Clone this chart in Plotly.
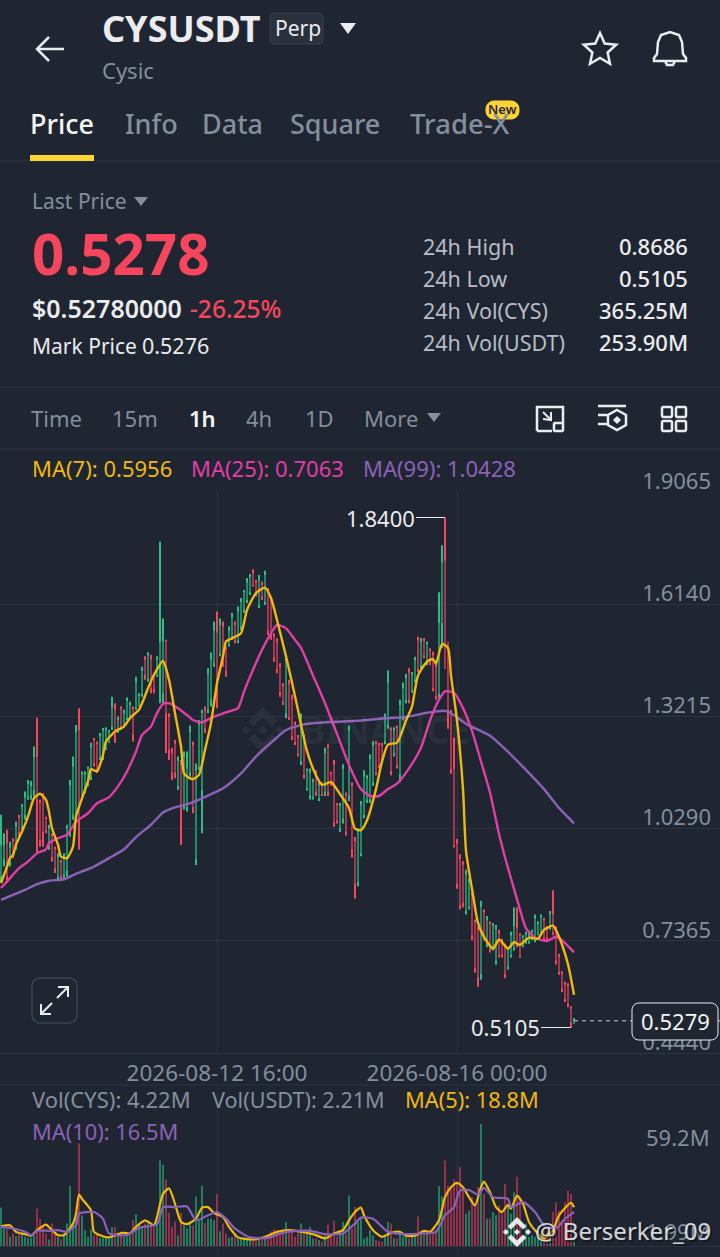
import math
import pandas as pd
import plotly.graph_objects as go

W, H = 720, 1257
BG = '#1f2631'
GRID = '#2d333f'
GRAY = '#848e9c'
WHITE = '#eaecef'
YELLOW = '#f0b90b'
PINK = '#e13ea6'
PURPLE = '#8c62b8'
RED = '#f6465d'
GREEN = '#2ebd85'
RED_DIM = '#a43650'
GREEN_DIM = '#1f8a66'
RED_VOL = '#93304a'
GREEN_VOL = '#237d5f'
FONT = 'Noto Sans'

# 1h candles
highs = [1.065,1.017,1.026,.995,1.004,1.047,1.065,1.093,1.126,1.156,
         1.153,1.243,1.318,1.104,1.121,1.060,1.039,1.017,.982,.965,
         .947,.965,1.039,1.156,1.217,1.299,1.343,1.178,1.178,1.191,
         1.253,1.265,1.256,1.278,1.291,1.293,1.286,1.373,1.356,1.321,
         1.347,1.339,1.371,1.360,1.347,1.425,1.382,1.451,1.478,1.489,
         1.482,1.434,1.478,1.777,1.577,1.521,1.330,1.239,1.260,1.217,
         1.208,1.230,1.230,1.298,1.256,1.199,1.312,1.339,1.347,1.447,
         1.488,1.569,1.595,1.577,1.569,1.504,1.556,1.591,1.569,1.608,
         1.630,1.651,1.682,1.693,1.705,1.677,1.690,1.673,1.701,1.656,
         1.634,1.538,1.525,1.460,1.408,1.478,1.417,1.378,1.308,1.273,
         1.329,1.275,1.186,1.186,1.159,1.181,1.150,1.150,1.240,1.249,
         1.177,1.208,1.096,1.096,1.197,1.123,1.298,1.150,1.007,1.029,
         1.101,1.181,1.168,1.222,1.257,1.257,1.253,1.253,1.329,1.441,
         1.293,1.293,1.298,1.365,1.410,1.432,1.447,1.437,1.477,1.529,
         1.526,1.526,1.517,1.499,1.490,1.459,1.645,1.768,1.840,1.516,
         1.338,1.266,1.002,.962,.944,.922,.899,.863,.792,.774,
         .841,.818,.801,.787,.783,.778,.765,.742,.729,.720,
         .760,.823,.823,.756,.751,.760,.756,.765,.805,.787,
         .805,.796,.774,.814,.868,.774,.702,.657,.630,.626,.566,.535]
lows = [.887,.930,.887,.930,.952,.974,1.008,1.026,1.052,1.104,
        1.104,1.113,.965,.982,.982,1.017,.974,.943,.913,.895,
        .895,.899,.904,1.008,1.052,1.065,.974,1.104,1.121,1.139,
        1.156,1.191,1.174,1.208,1.208,1.234,1.252,1.286,1.252,1.278,
        1.286,1.295,1.312,1.321,1.256,1.339,1.347,1.373,1.417,1.412,
        1.382,1.382,1.425,1.356,1.356,1.226,1.208,1.156,1.160,1.130,
        .986,1.078,1.073,1.165,1.069,.934,1.182,1.017,1.278,1.330,
        1.347,1.451,1.343,1.478,1.451,1.425,1.504,1.521,1.512,1.512,
        1.547,1.591,1.617,1.638,1.660,1.634,1.604,1.625,1.612,1.534,
        1.521,1.464,1.434,1.373,1.351,1.317,1.312,1.260,1.247,1.217,
        1.195,1.159,1.128,1.105,1.105,1.114,1.101,1.114,1.114,1.114,
        1.141,1.034,1.042,1.020,1.042,1.011,1.101,.953,.847,.879,
        .957,1.056,1.096,1.096,1.141,1.168,1.186,1.204,1.249,1.289,
        1.168,1.217,1.186,1.150,1.311,1.356,1.356,1.383,1.410,1.437,
        1.446,1.473,1.455,1.455,1.387,1.365,1.365,1.499,1.446,1.289,
        1.172,.980,.872,.818,.823,.805,.818,.738,.653,.617,
        .635,.738,.720,.706,.711,.675,.693,.693,.639,.662,
        .693,.711,.720,.693,.720,.729,.729,.738,.733,.751,
        .756,.738,.738,.765,.751,.675,.648,.603,.577,.563,.5105,.520]
opens = [.905,.950,.990,.945,.995,.985,1.058,1.035,1.065,1.112,
         1.115,1.130,1.215,1.095,1.105,1.055,.985,1.010,.975,.905,
         .940,.910,.920,1.020,1.065,1.070,1.285,1.110,1.125,1.145,
         1.165,1.260,1.250,1.215,1.215,1.240,1.255,1.295,1.340,1.282,
         1.340,1.300,1.318,1.325,1.340,1.345,1.350,1.380,1.470,1.420,
         1.470,1.425,1.430,1.460,1.382,1.517,1.320,1.225,1.250,1.140,
         1.195,1.090,1.085,1.175,1.245,.950,1.190,1.130,1.335,1.340,
         1.365,1.460,1.540,1.485,1.555,1.495,1.510,1.530,1.560,1.520,
         1.555,1.600,1.625,1.645,1.695,1.670,1.612,1.665,1.620,1.650,
         1.625,1.530,1.515,1.450,1.400,1.330,1.405,1.365,1.300,1.265,
         1.205,1.265,1.135,1.115,1.112,1.175,1.108,1.145,1.125,1.240,
         1.172,1.195,1.090,1.030,1.055,1.115,1.115,1.140,.995,.890,
         .965,1.065,1.105,1.105,1.150,1.250,1.245,1.245,1.258,1.300,
         1.285,1.225,1.290,1.170,1.320,1.365,1.435,1.390,1.418,1.520,
         1.455,1.518,1.462,1.492,1.480,1.450,1.380,1.565,1.728,1.516,
         1.330,1.185,.990,.950,.935,.815,.825,.855,.785,.765,
         .650,.810,.730,.780,.720,.685,.755,.735,.720,.670,
         .700,.720,.770,.750,.725,.735,.735,.742,.740,.755,
         .760,.790,.768,.770,.805,.765,.695,.650,.622,.618,.560,.522]
closes = [.985,.985,.905,.980,.965,1.035,1.020,1.085,1.110,1.145,
          1.140,1.215,1.105,1.000,1.020,1.025,1.030,.955,.925,.955,
          .905,.955,1.030,1.140,1.190,1.280,1.052,1.170,1.170,1.185,
          1.240,1.200,1.185,1.270,1.285,1.285,1.280,1.345,1.275,1.312,
          1.295,1.330,1.362,1.350,1.275,1.410,1.375,1.440,1.430,1.480,
          1.395,1.392,1.470,1.515,1.517,1.330,1.235,1.175,1.175,1.205,
          1.090,1.215,1.185,1.280,1.085,1.180,1.300,1.330,1.290,1.430,
          1.470,1.545,1.420,1.560,1.465,1.440,1.545,1.580,1.520,1.595,
          1.620,1.645,1.670,1.685,1.665,1.640,1.675,1.635,1.690,1.545,
          1.535,1.475,1.445,1.385,1.360,1.465,1.320,1.270,1.255,1.225,
          1.315,1.170,1.180,1.175,1.150,1.125,1.142,1.120,1.225,1.125,
          1.146,1.045,1.050,1.088,1.185,1.022,1.285,.975,.885,1.020,
          1.090,1.165,1.160,1.210,1.245,1.175,1.195,1.212,1.320,1.410,
          1.180,1.285,1.195,1.350,1.395,1.420,1.365,1.430,1.468,1.445,
          1.515,1.480,1.510,1.462,1.395,1.375,1.565,1.723,1.446,1.340,
          1.185,.985,.885,.830,.835,.910,.890,.750,.665,.640,
          .825,.745,.790,.715,.775,.765,.700,.700,.650,.712,
          .750,.775,.730,.700,.745,.752,.750,.760,.795,.780,
          .798,.745,.745,.805,.758,.685,.655,.612,.585,.572,.525,.5279]
volumes = [18.6,8.5,8.0,4.5,6.1,4.8,6.9,6.1,4.5,4.0,
           4.0,5.3,18.2,13.3,9.6,6.1,3.2,10.9,6.1,4.5,
           3.4,6.1,10.9,29.1,11.7,14.4,49.9,14.9,7.7,4.5,
           8.0,5.3,6.1,4.0,4.2,4.5,3.7,9.3,9.3,6.1,
           6.9,4.5,4.5,5.3,12.8,15.4,10.1,8.5,10.9,10.9,
           10.1,9.3,10.9,41.6,39.4,32.2,16.2,9.3,12.0,5.3,
           16.0,10.1,8.5,10.9,10.1,24.0,12.2,29.3,11.2,13.3,
           13.3,12.5,25.3,7.2,10.9,6.1,4.0,4.5,6.1,3.7,
           3.7,4.5,3.7,4.5,4.5,4.5,4.5,4.5,4.5,5.8,
           6.9,8.0,6.9,6.1,6.9,11.7,6.9,6.9,4.5,7.7,
           10.9,6.9,6.1,9.3,3.7,3.7,2.9,2.1,6.1,10.4,
           4.5,12.2,4.5,6.9,11.7,6.1,24.5,8.5,18.9,11.7,
           13.3,3.7,4.5,7.7,5.3,2.9,2.6,2.1,4.5,11.7,
           10.9,3.7,3.7,6.1,4.5,4.5,3.7,4.5,4.5,14.4,
           6.1,6.1,6.1,6.1,6.9,7.7,29.1,24.0,41.6,29.3,
           27.7,32.5,30.9,38.4,26.9,15.7,17.3,23.7,19.7,28.5,
           59.2,25.3,13.3,13.3,16.5,14.9,19.7,15.7,30.1,19.7,
           15.7,26.1,33.6,23.7,4.5,10.9,4.5,5.3,4.5,7.7,
           4.5,7.7,6.1,6.9,16.5,21.3,17.0,12.5,21.3,26.9,25.3,3.7]

# moving averages: candle number, value
ma7_idx = [0,2,3,4,5,7,9,11,13,15,16,17,19,20,22,24,25,27,29,30,32,34,35,38,41,43,46,49,51,54,
           56,58,60,61,62,64,66,68,70,72,74,75,77,80,82,85,88,90,92,95,97,99,102,105,107,110,113,116,118,120,
           122,125,127,129,132,135,137,139,142,144,145,147,149,150,152,154,155,157,159,161,164,166,169,171,173,176,179,181,184,186,189,191]
ma7 = [.887,.930,.952,.960,.987,1.021,1.060,1.108,1.120,1.104,1.073,1.030,.987,.956,.952,.982,1.060,1.108,1.152,1.184,1.178,1.221,1.256,1.282,1.295,1.317,1.339,1.395,1.430,1.466,
       1.417,1.330,1.243,1.173,1.165,1.158,1.169,1.234,1.304,1.408,1.478,1.517,1.525,1.538,1.599,1.643,1.657,1.630,1.573,1.478,1.410,1.338,1.231,1.168,1.143,1.150,1.119,1.083,1.029,1.025,
       1.051,1.132,1.204,1.248,1.253,1.311,1.347,1.428,1.464,1.471,1.459,1.510,1.500,1.428,1.311,1.132,.971,.872,.783,.747,.716,.740,.716,.733,.726,.745,.742,.765,.776,.747,.675,.5956]
ma25_idx = [0,3,6,9,12,15,16,19,22,25,29,32,36,39,42,45,47,50,52,54,56,59,62,64,67,71,75,79,81,84,87,90,92,95,98,
            100,104,108,112,116,120,123,126,129,132,136,140,143,146,148,151,154,157,160,163,166,169,171,173,175,178,182,185,187,191]
ma25 = [.874,.900,.926,.943,.965,.975,.991,1.004,1.013,1.047,1.069,1.095,1.111,1.139,1.178,1.230,1.273,1.295,1.330,1.354,1.356,1.343,1.325,1.312,1.306,1.321,1.332,1.343,1.386,1.443,1.495,1.538,1.560,1.551,1.521,
        1.500,1.428,1.356,1.276,1.195,1.132,1.114,1.114,1.132,1.146,1.186,1.240,1.311,1.365,1.387,1.383,1.343,1.284,1.204,1.123,1.015,.926,.872,.818,.769,.745,.736,.747,.738,.7063]
ma99_idx = [0,4,8,12,16,21,25,31,36,41,45,50,54,57,63,67,74,80,85,91,95,99,102,110,119,127,135,142,148,151,155,163,167,174,181,186,191]
ma99 = [.843,.856,.869,.884,.893,.897,.911,.930,.952,.975,1.007,1.039,1.071,1.082,1.095,1.108,1.134,1.173,1.217,1.260,1.286,1.297,1.302,1.307,1.310,1.316,1.320,1.331,1.336,1.325,1.302,1.271,1.244,1.190,1.132,1.083,1.0428]
vol_ma5_idx = [0,3,5,8,10,12,15,17,19,21,24,25,26,27,30,31,34,36,39,41,43,45,48,51,52,54,56,58,60,62,65,67,69,71,74,76,79,82,85,89,92,96,101,105,108,111,114,116,118,
               120,121,124,127,130,133,135,138,141,143,146,148,150,152,154,156,158,160,161,163,165,167,169,170,172,174,176,179,181,184,186,190,191]
vol_ma5 = [9.6,10.1,6.9,5.8,5.0,7.7,10.4,7.7,5.3,5.3,10.9,15.7,25.0,22.9,17.3,6.9,4.8,4.2,5.8,6.4,6.1,9.3,12.5,10.1,14.1,25.3,28.0,20.5,11.7,10.6,13.3,18.6,18.9,16.0,14.1,9.3,4.2,3.4,3.4,5.0,6.9,7.7,6.7,5.3,3.7,6.1,7.7,12.5,16.5,
           18.6,14.9,7.7,4.5,6.4,6.9,5.0,5.0,7.4,6.9,12.5,23.7,28.5,30.6,28.5,23.7,19.7,28.5,31.2,26.1,18.9,16.5,20.0,18.1,24.5,20.5,11.7,6.1,3.7,7.7,14.9,21.0,18.8]
vol_ma10_idx = [0,4,8,10,12,16,19,22,25,26,31,34,36,42,46,52,54,58,62,65,69,72,75,78,83,89,95,103,108,114,118,
                120,124,129,134,140,145,148,151,153,156,159,161,164,169,170,174,178,181,185,188,191]
vol_ma10 = [9.3,8.5,6.9,5.3,7.4,7.4,7.7,6.9,10.1,15.7,16.5,13.3,6.1,5.3,8.8,10.6,18.9,18.9,19.2,12.5,14.9,16.5,13.3,8.5,4.2,4.0,6.9,7.4,5.8,6.1,10.9,
            13.8,13.3,6.9,5.8,6.1,6.9,14.9,18.9,26.9,27.2,25.0,28.2,23.7,22.9,18.9,21.3,16.5,10.1,8.5,13.3,16.5]

price_ticks = [1.9065, 1.6140, 1.3215, 1.0290, 0.7365, 0.4440]
time_ticks = ['2026-08-12 16:00', '2026-08-16 00:00']
stats = [('24h High', '0.8686'), ('24h Low', '0.5105'), ('24h Vol(CYS)', '365.25M'), ('24h Vol(USDT)', '253.90M')]

start = pd.Timestamp('2026-08-09 16:00')
times = [start + pd.Timedelta(hours=i) for i in range(len(closes))]
x_range = [start - pd.Timedelta(minutes=20), start + pd.Timedelta(minutes=239 * 60 + 40)]
bar_ms = 2400000


def at(idx):
    return [times[i] for i in idx]


def X(px):
    return px / W


def Y(px):
    return 1 - px / H


# screen chrome is laid out in picture pixels, turned into paper coords here
def poly(points, close=True):
    d = 'M' + ' L'.join(f'{X(x):.5f},{Y(y):.5f}' for x, y in points)
    return d + (' Z' if close else '')


def line_shape(points, color=WHITE, width=2.5, close=False, fill=None, layer='above'):
    return dict(type='path', xref='paper', yref='paper', path=poly(points, close),
                line=dict(color=color, width=width), fillcolor=fill, layer=layer)


def round_rect(x0, y0, x1, y1, r, color, fill=None, width=1.0):
    pts = []
    for cx, cy, a0 in [(x1 - r, y0 + r, -90), (x1 - r, y1 - r, 0), (x0 + r, y1 - r, 90), (x0 + r, y0 + r, 180)]:
        for k in range(7):
            a = math.radians(a0 + 15 * k)
            pts.append((cx + r * math.cos(a), cy + r * math.sin(a)))
    return dict(type='path', xref='paper', yref='paper', path=poly(pts),
                line=dict(color=color, width=width), fillcolor=fill or 'rgba(0,0,0,0)')


def label(x, y, text, size, color=WHITE, anchor='left', weight=400, opacity=1):
    # annotations carry about 2px of padding
    nudge = {'left': -2, 'right': 2, 'center': 0}[anchor]
    return dict(xref='paper', yref='paper', x=X(x + nudge), y=Y(y - 1), text=text,
                showarrow=False, xanchor=anchor, yanchor='middle', opacity=opacity,
                font=dict(family=FONT, size=size, color=color, weight=weight))


def binance_logo(cx, cy, r, color, layer='above'):
    top = [(0, -1), (.62, -.38), (.40, -.16), (0, -.56), (-.40, -.16), (-.62, -.38)]
    bits = [top, [(x, -y) for x, y in top]]
    for dx in (-.74, 0, .74):
        s = .2
        bits.append([(dx, -s), (dx + s, 0), (dx, s), (dx - s, 0)])
    return [line_shape([(cx + a * r, cy + b * r) for a, b in bit], color=color, width=0, close=True, fill=color, layer=layer)
            for bit in bits]


fig = go.Figure()

wick_colors = [GREEN if c >= o else RED for o, c in zip(opens, closes)]
body_colors = [GREEN_DIM if c >= o else RED_DIM for o, c in zip(opens, closes)]
vol_colors = [GREEN_VOL if c >= o else RED_VOL for o, c in zip(opens, closes)]

fig.add_trace(go.Bar(x=times, y=[h - l for h, l in zip(highs, lows)], base=lows, width=bar_ms,
                     marker=dict(color=wick_colors, line_width=0), name='wick'))
fig.add_trace(go.Bar(x=times, y=[abs(c - o) for o, c in zip(opens, closes)], base=[min(o, c) for o, c in zip(opens, closes)],
                     width=bar_ms, marker=dict(color=body_colors, line_width=0), name='body'))
for idx, vals, color, name in [(ma99_idx, ma99, PURPLE, 'MA(99)'), (ma25_idx, ma25, PINK, 'MA(25)'), (ma7_idx, ma7, YELLOW, 'MA(7)')]:
    fig.add_trace(go.Scatter(x=at(idx), y=vals, mode='lines', name=name,
                             line=dict(color=color, width=2.4, shape='spline', smoothing=0.6)))

fig.add_trace(go.Bar(x=times, y=volumes, width=bar_ms, xaxis='x2', yaxis='y2', name='Vol',
                     marker=dict(color=vol_colors, line_width=0)))
for idx, vals, color, name in [(vol_ma5_idx, vol_ma5, YELLOW, 'MA(5)'), (vol_ma10_idx, vol_ma10, PURPLE, 'MA(10)')]:
    fig.add_trace(go.Scatter(x=at(idx), y=vals, mode='lines', name=name, xaxis='x2', yaxis='y2',
                             line=dict(color=color, width=2.2, shape='spline', smoothing=0.6)))

notes = [
    label(102, 29, 'CYSUSDT', 36, weight=700),
    label(298, 29, 'Perp', 21, anchor='center'),
    label(102, 71, 'Cysic', 22, GRAY),
    label(30, 124, 'Price', 27, '#f5f6f7', weight=500),
    label(125, 124, 'Info', 27, GRAY, weight=500),
    label(202, 124, 'Data', 27, GRAY, weight=500),
    label(290, 124, 'Square', 27, GRAY, weight=500),
    label(410, 124, 'Trade-X', 27.5, GRAY, weight=500),
    label(502, 110, 'New', 13, '#1f2631', anchor='center', weight=600),
    label(32, 202, 'Last Price', 21, GRAY),
    label(32, 255, '0.5278', 56.5, RED, weight=700),
    label(32, 309, '$0.52780000', 25, WHITE, weight=600),
    label(190, 309, '-26.25%', 24.5, RED, weight=500),
    label(32, 347, 'Mark Price', 21),
    label(142, 347, '0.5276', 21.5),
    label(31, 419, 'Time', 22, GRAY),
    label(112, 419, '15m', 22, GRAY),
    label(189, 419, '1h', 22, '#f5f6f7', weight=600),
    label(246, 419, '4h', 22, GRAY),
    label(305, 419, '1D', 22, GRAY),
    label(364, 419, 'More', 22, GRAY),
    label(32, 469, 'MA(7): 0.5956', 22, YELLOW),
    label(191, 469, 'MA(25): 0.7063', 22, PINK),
    label(363, 469, 'MA(99): 1.0428', 22, PURPLE),
    label(32, 1100, 'Vol(CYS): 4.22M', 22, GRAY),
    label(212, 1100, 'Vol(USDT): 2.21M', 21.6, GRAY),
    label(405, 1100, 'MA(5): 18.8M', 21.8, YELLOW),
    label(32, 1132, 'MA(10): 16.5M', 21.8, PURPLE),
    label(710, 1138, '59.2M', 22, GRAY, anchor='right'),
    label(710, 1232, '1.99M', 22, GRAY, anchor='right'),
    label(385, 730, 'BINANCE', 37, '#ffffff', anchor='center', weight=700, opacity=0.045),
    label(675, 1022, '0.5279', 22, '#f5f6f7', anchor='center'),
    label(537, 1233, '@ Berserker_09', 24, '#111418', opacity=0.7),
    label(535, 1231, '@ Berserker_09', 24, '#e6e8ea', opacity=0.9),
]
for i, (name, value) in enumerate(stats):
    notes.append(label(423, 247 + 32 * i, name, 21.5, '#b7bdc6'))
    notes.append(label(688, 247 + 32 * i, value, 22, WHITE, anchor='right', weight=500))

# high / low callouts
for when, price, text, shift in [(times[148], 1.84, '1.8400', -65), (times[190], 0.5105, '0.5105', -66)]:
    notes.append(dict(x=when, y=price, xref='x', yref='y', text=text, showarrow=True, arrowhead=0, arrowwidth=1,
                      arrowcolor=WHITE, ax=shift, ay=0, font=dict(family=FONT, size=22, color=WHITE)))

shapes = [
    dict(type='line', xref='paper', yref='paper', x0=0, x1=1, y0=Y(y), y1=Y(y), line=dict(color=GRID, width=1))
    for y in (161, 387, 449, 1085)
]
shapes += [
    round_rect(270, 13, 323, 44, 4, '#3a4150', '#2a303c'),
    line_shape([(340, 23), (356, 23), (348, 34)], WHITE, 0, True, WHITE),
    line_shape([(30, 155), (94, 155), (94, 161), (30, 161)], '#fcd535', 0, True, '#fcd535'),
    round_rect(486, 101, 519, 119, 8, '#fcd535', '#fcd535'),
    line_shape([(134, 197), (148, 197), (141, 206)], GRAY, 0, True, GRAY),
    line_shape([(427, 413), (441, 413), (434, 422)], GRAY, 0, True, GRAY),
    line_shape([(37, 49), (64, 49)]),
    line_shape([(49, 37), (37, 49), (49, 61)]),
    # zoom button on the chart
    round_rect(32, 978, 77, 1023, 8, '#3b4250', BG, 1.5),
    line_shape([(42, 1013), (52, 1003)], WHITE, 2),
    line_shape([(57, 998), (67, 988)], WHITE, 2),
    line_shape([(58, 987), (68, 987), (68, 997)], WHITE, 2),
    line_shape([(41, 1004), (41, 1014), (51, 1014)], WHITE, 2),
    # last price line and box
    dict(type='line', xref='x', yref='y', x0=times[191], x1=x_range[1], y0=0.5279, y1=0.5279,
         line=dict(color='#c8ccd2', width=1, dash='4px,4px')),
    round_rect(632, 1003, 718, 1040, 7, '#eaecef', BG, 1),
    # chart tool icons
    line_shape([(537, 431), (537, 407), (563, 407), (563, 423)], WHITE, 2.5),
    line_shape([(537, 431), (552, 431)], WHITE, 2.5),
    round_rect(554, 423, 563, 431, 1, WHITE, BG, 2.5),
    line_shape([(543, 412), (551, 420)], WHITE, 2),
    line_shape([(543, 419), (551, 420), (551, 412)], WHITE, 2),
    line_shape([(598, 406), (626, 406)], WHITE, 2.5),
    line_shape([(598, 415), (607, 415)], WHITE, 2.5),
    line_shape([(598, 424), (607, 424)], WHITE, 2.5),
    line_shape([(617, 410), (626, 415), (626, 425), (617, 430), (608, 425), (608, 415)], WHITE, 2.5, True),
    line_shape([(617, 417), (620, 420), (617, 423), (614, 420)], WHITE, 1.5, True, WHITE),
]
for cx in (667, 681):
    for cy in (412, 426):
        shapes.append(round_rect(cx - 5, cy - 5, cx + 5, cy + 5, 1.5, WHITE, None, 2.5))

star = []
for k in range(10):
    r = 17 if k % 2 == 0 else 8
    a = math.radians(-90 + 36 * k)
    star.append((600 + r * math.cos(a), 50 + r * math.sin(a)))
shapes.append(line_shape(star, WHITE, 2.5, True))

bell = [(654, 58), (657, 54), (658, 42), (661, 35), (670, 32), (679, 35), (682, 42), (683, 54), (686, 58), (686, 61), (654, 61)]
shapes.append(line_shape(bell, WHITE, 2.5, True))
shapes.append(line_shape([(665, 61), (667, 65), (673, 65), (675, 61)], WHITE, 2.5))

shapes += binance_logo(263, 730, 23, 'rgba(255,255,255,0.05)', layer='below')
shapes += binance_logo(517, 1232, 15, '#e6e8ea')

fig.update_layout(
    width=W, height=H, margin=dict(l=0, r=0, t=0, b=0, autoexpand=False), autosize=False,
    paper_bgcolor=BG, plot_bgcolor=BG, showlegend=False, barmode='overlay',
    font=dict(family=FONT, color=GRAY),
    shapes=shapes, annotations=notes,
    xaxis=dict(domain=[0, 1], anchor='y', type='date', range=x_range, tickmode='array', tickvals=time_ticks,
               ticktext=time_ticks, tickfont=dict(size=22.5, color=GRAY), showgrid=True, gridcolor=GRID,
               ticks='', ticklabelstandoff=0, zeroline=False, showline=True, linecolor=GRID, fixedrange=True),
    yaxis=dict(domain=[Y(1053), Y(492)], anchor='x', side='right', range=[price_ticks[-1], price_ticks[0]],
               tickmode='array', tickvals=price_ticks, ticktext=[f'{v:.4f}' for v in price_ticks],
               tickfont=dict(size=22, color=GRAY), ticklabelposition='inside', ticklabeloverflow='allow',
               ticklabelshift=-11, ticklabelstandoff=6, showgrid=True, gridcolor=GRID, zeroline=False, fixedrange=True),
    xaxis2=dict(domain=[0, 1], anchor='y2', type='date', range=x_range, tickmode='array', tickvals=time_ticks,
                showticklabels=False, showgrid=True, gridcolor=GRID, ticks='', zeroline=False, fixedrange=True),
    yaxis2=dict(domain=[0, Y(1085)], anchor='x2', side='right', range=[-5.3, 78.1], showticklabels=False,
                showgrid=False, zeroline=True, zerolinecolor=GRID, zerolinewidth=1, fixedrange=True),
)

fig.write_html("out.html", config=dict(displayModeBar=False),
               post_script="document.body.style.margin='0';document.body.style.background='#1f2631';")
